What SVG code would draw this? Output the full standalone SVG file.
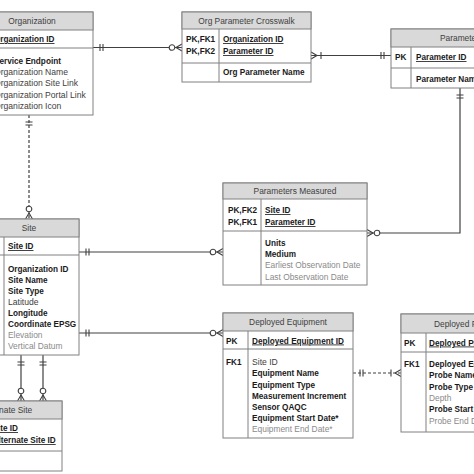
<svg xmlns="http://www.w3.org/2000/svg" width="474" height="474" viewBox="0 0 474 474">
<style>
text{font-family:"Liberation Sans",Arial,sans-serif}
.box{fill:#fff;stroke:#808080;stroke-width:1}
.hd{fill:#d9d9d9;stroke:#808080;stroke-width:1}
.ln{stroke:#808080;stroke-width:1}
.h{font-size:8.4px;fill:#404040;text-anchor:middle}
.b{font-size:8.2px;font-weight:bold;fill:#1a1a1a}
.r{font-size:8.6px;fill:#404040}
.g{font-size:8.4px;fill:#8a8a8a}
.u{text-decoration:underline}
.c{fill:none;stroke:#404040;stroke-width:1.2}
.d{stroke-dasharray:3 2}
.m{fill:none;stroke:#404040;stroke-width:1.1}
</style>
<defs>
<marker id="one" markerUnits="userSpaceOnUse" orient="auto-start-reverse" refX="0" refY="0" markerWidth="20" markerHeight="20" overflow="visible">
<path class="m" d="M-7,-3.5V3.5M-10,-3.5V3.5"/>
</marker>
<marker id="zm" markerUnits="userSpaceOnUse" orient="auto-start-reverse" refX="0" refY="0" markerWidth="20" markerHeight="20" overflow="visible">
<path class="m" d="M-6,0L0,-3.5M-6,0L0,3.5"/>
<circle cx="-10" cy="0" r="2.8" fill="#fff" stroke="#404040" stroke-width="1.1"/>
</marker>
<marker id="om" markerUnits="userSpaceOnUse" orient="auto-start-reverse" refX="0" refY="0" markerWidth="20" markerHeight="20" overflow="visible">
<path class="m" d="M-6,0L0,-3.5M-6,0L0,3.5M-10,-3.5V3.5"/>
</marker>
</defs>
<rect x="0" y="0" width="474" height="474" fill="#fff"/>

<g id="connectors">
<path class="c" d="M93,47.5H182" marker-start="url(#one)" marker-end="url(#zm)"/>
<path class="c" d="M311,55.5H391" marker-start="url(#om)" marker-end="url(#one)"/>
<path class="c d" d="M29,115V219" marker-start="url(#one)" marker-end="url(#zm)"/>
<path class="c" d="M79,252H223" marker-start="url(#one)" marker-end="url(#zm)"/>
<path class="c" d="M79,333H223" marker-start="url(#one)" marker-end="url(#zm)"/>
<path class="c" d="M460,88V233H367" marker-start="url(#one)" marker-end="url(#zm)"/>
<path class="c" d="M21,355V401" marker-start="url(#one)" marker-end="url(#zm)"/>
<path class="c" d="M43,355V401" marker-start="url(#one)" marker-end="url(#zm)"/>
<path class="c d" d="M353,373H401" marker-start="url(#one)" marker-end="url(#om)"/>
</g>

<g id="organization">
<rect class="box" x="-29" y="12" width="122" height="103"/>
<rect class="hd" x="-29" y="12" width="122" height="18"/>
<line class="ln" x1="-29" y1="48" x2="93" y2="48"/>
<line class="ln" x1="-12" y1="30" x2="-12" y2="115"/>
<text class="h" x="32" y="24">Organization</text>
<text class="b u" x="-6" y="42">Organization ID</text>
<text class="b" x="-6" y="64">Service Endpoint</text>
<text class="r" x="-6" y="75.2">Organization Name</text>
<text class="r" x="-6" y="86.4">Organization Site Link</text>
<text class="r" x="-6" y="97.6">Organization Portal Link</text>
<text class="r" x="-6" y="108.8">Organization Icon</text>
</g>

<g id="org-parameter-crosswalk">
<rect class="box" x="182" y="12" width="129" height="70"/>
<rect class="hd" x="182" y="12" width="129" height="17"/>
<line class="ln" x1="182" y1="63" x2="311" y2="63"/>
<line class="ln" x1="219" y1="29" x2="219" y2="82"/>
<text class="h" x="246.5" y="23.5">Org Parameter Crosswalk</text>
<text class="b" x="186" y="42">PK,FK1</text>
<text class="b" x="186" y="54">PK,FK2</text>
<text class="b u" x="223" y="42">Organization ID</text>
<text class="b u" x="223" y="54">Parameter ID</text>
<text class="b" x="223" y="75">Org Parameter Name</text>
</g>

<g id="parameter">
<rect class="box" x="391" y="29" width="137" height="59"/>
<rect class="hd" x="391" y="29" width="137" height="18"/>
<line class="ln" x1="391" y1="68" x2="528" y2="68"/>
<line class="ln" x1="411" y1="47" x2="411" y2="88"/>
<text class="h" x="459.5" y="41">Parameter</text>
<text class="b" x="395" y="60">PK</text>
<text class="b u" x="416" y="60">Parameter ID</text>
<text class="b" x="416" y="82">Parameter Name</text>
</g>

<g id="site">
<rect class="box" x="-21" y="219" width="100" height="136"/>
<rect class="hd" x="-21" y="219" width="100" height="18"/>
<line class="ln" x1="-21" y1="255" x2="79" y2="255"/>
<line class="ln" x1="4" y1="237" x2="4" y2="355"/>
<text class="h" x="29" y="231">Site</text>
<text class="b u" x="8" y="249">Site ID</text>
<text class="b" x="8" y="271.5">Organization ID</text>
<text class="b" x="8" y="282.6">Site Name</text>
<text class="b" x="8" y="293.7">Site Type</text>
<text class="r" x="8" y="304.8">Latitude</text>
<text class="b" x="8" y="315.9">Longitude</text>
<text class="b" x="8" y="327">Coordinate EPSG</text>
<text class="g" x="8" y="338.1">Elevation</text>
<text class="g" x="8" y="349.2">Vertical Datum</text>
</g>

<g id="parameters-measured">
<rect class="box" x="223" y="183" width="144" height="102"/>
<rect class="hd" x="223" y="183" width="144" height="16"/>
<line class="ln" x1="223" y1="231" x2="367" y2="231"/>
<line class="ln" x1="261" y1="199" x2="261" y2="285"/>
<text class="h" x="295" y="194">Parameters Measured</text>
<text class="b" x="228" y="213">PK,FK2</text>
<text class="b" x="228" y="225">PK,FK1</text>
<text class="b u" x="265" y="213">Site ID</text>
<text class="b u" x="265" y="225">Parameter ID</text>
<text class="b" x="265" y="245.7">Units</text>
<text class="b" x="265" y="257">Medium</text>
<text class="g" x="265" y="268.3">Earliest Observation Date</text>
<text class="g" x="265" y="279.6">Last Observation Date</text>
</g>

<g id="deployed-equipment">
<rect class="box" x="223" y="313" width="130" height="125"/>
<rect class="hd" x="223" y="313" width="130" height="18"/>
<line class="ln" x1="223" y1="349" x2="353" y2="349"/>
<line class="ln" x1="248" y1="331" x2="248" y2="438"/>
<text class="h" x="288" y="325">Deployed Equipment</text>
<text class="b" x="226" y="343.5">PK</text>
<text class="b u" x="252" y="343.5">Deployed Equipment ID</text>
<text class="b" x="226" y="365.3">FK1</text>
<text class="r" x="252" y="365.3">Site ID</text>
<text class="b" x="252" y="376.4">Equipment Name</text>
<text class="b" x="252" y="387.5">Equipment Type</text>
<text class="b" x="252" y="398.6">Measurement Increment</text>
<text class="b" x="252" y="409.7">Sensor QAQC</text>
<text class="b" x="252" y="420.8">Equipment Start Date*</text>
<text class="g" x="252" y="431.9">Equipment End Date*</text>
</g>

<g id="deployed-probe">
<rect class="box" x="401" y="314" width="126" height="118"/>
<rect class="hd" x="401" y="314" width="126" height="19"/>
<line class="ln" x1="401" y1="352" x2="527" y2="352"/>
<line class="ln" x1="426" y1="333" x2="426" y2="432"/>
<text class="h" x="464" y="326.5">Deployed Probe</text>
<text class="b" x="404" y="345.5">PK</text>
<text class="b u" x="429" y="345.5">Deployed Probe ID</text>
<text class="b" x="404" y="367">FK1</text>
<text class="b" x="429" y="367">Deployed Equipment ID</text>
<text class="b" x="429" y="378.3">Probe Name</text>
<text class="b" x="429" y="389.6">Probe Type</text>
<text class="g" x="429" y="400.9">Depth</text>
<text class="b" x="429" y="412.2">Probe Start Date*</text>
<text class="g" x="429" y="423.5">Probe End Date*</text>
</g>

<g id="alternate-site">
<rect class="box" x="-48" y="401" width="110" height="70"/>
<rect class="hd" x="-48" y="401" width="110" height="18"/>
<line class="ln" x1="-48" y1="451" x2="62" y2="451"/>
<line class="ln" x1="-12" y1="419" x2="-12" y2="471"/>
<text class="h" x="7" y="413">Alternate Site</text>
<text class="b u" x="-7.5" y="431">Site ID</text>
<text class="b u" x="-7.5" y="443">Alternate Site ID</text>
</g>
</svg>
